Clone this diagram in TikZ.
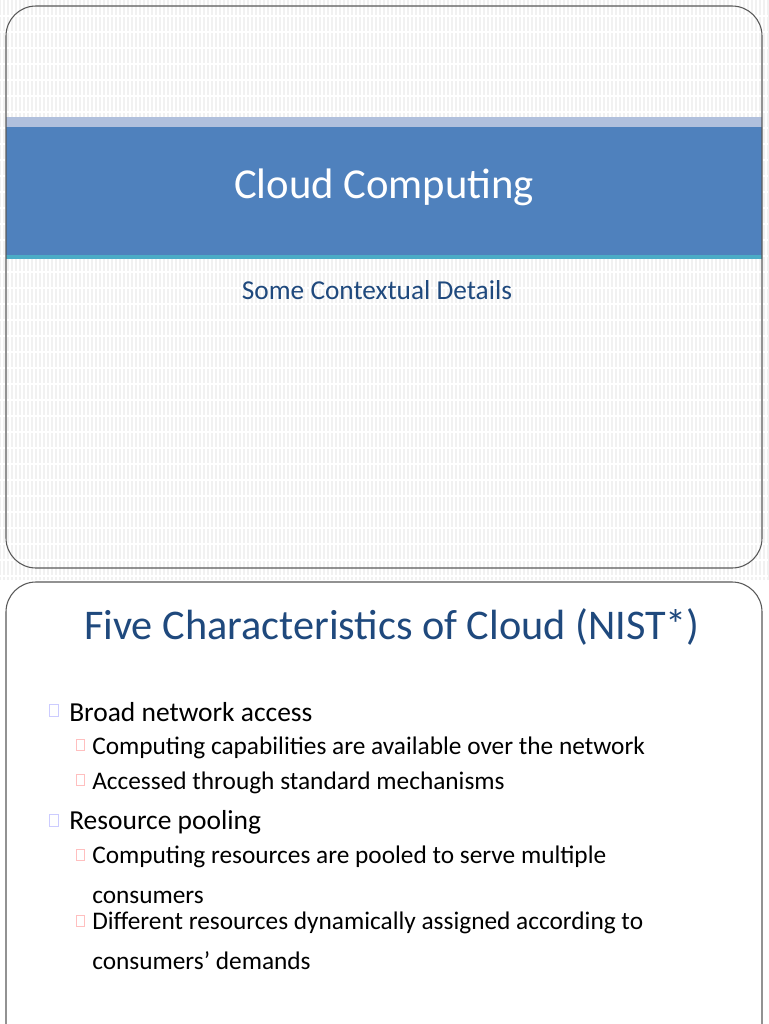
\documentclass[tikz,border=0pt]{standalone}
\usepackage{fontspec}
\setmainfont{Carlito}
\definecolor{band}{HTML}{4F81BD}
\definecolor{bandlt}{HTML}{B0C0DD}
\definecolor{cyanl}{HTML}{4BACC6}
\definecolor{ttl}{HTML}{1F497D}
\definecolor{stripe}{HTML}{F1F1F1}
\begin{document}
\begin{tikzpicture}[x=0.75pt,y=-0.75pt,
  lone/.style={anchor=west,font=\fontsize{20.6}{22}\selectfont,inner sep=0pt},
  ltwo/.style={anchor=west,font=\fontsize{19}{23}\selectfont,inner sep=0pt,align=left},
  bone/.style={draw=blue!20,line width=0.6pt,minimum width=7pt,minimum height=9pt,inner sep=0pt},
  btwo/.style={draw=red!25,line width=0.6pt,minimum width=6pt,minimum height=8pt,inner sep=0pt},
  slide/.style={draw=black!65,line width=0.8pt,rounded corners=22.5pt}]
\useasboundingbox (0,0) rectangle (768,1024);
\fill[white] (0,0) rectangle (768,1024);
\foreach \i in {0,4,...,768} \draw[stripe,line width=0.9pt] (\i,0) -- (\i,580);
\foreach \j in {16,32,...,580} \draw[white,line width=0.8pt] (0,\j) -- (768,\j);
% slide 1
\begin{scope}
\clip[rounded corners=22.5pt] (6,6) rectangle (762,568);
\fill[bandlt] (0,117) rectangle (768,127);
\fill[band] (0,127) rectangle (768,255);
\fill[cyanl] (0,255) rectangle (768,259);
\end{scope}
\draw[slide] (6,6) rectangle (762,568);
\node[text=white,font=\fontsize{32}{34}\selectfont] (t1) at (384,187) {Cloud Computing};
\node[text=ttl,font=\fontsize{20.5}{22}\selectfont] (s1) at (377,290) {Some Contextual Details};
% slide 2
\fill[white,rounded corners=22.5pt] (6,582) rectangle (762,1060);
\draw[slide] (6,582) rectangle (762,1060);
\node[text=ttl,font=\fontsize{31.7}{34}\selectfont] (t2) at (392,627) {Five Characteristics of Cloud (NIST*)};
\node[bone] (b1) at (54,710) {};
\node[lone] (l1) at (69,712) {Broad network access};
\node[btwo] (b2) at (80,745) {};
\node[ltwo] (l2) at (92,748) {Computing capabilities are available over the network};
\node[btwo] (b3) at (80,780) {};
\node[ltwo] (l3) at (92,783) {Accessed through standard mechanisms};
\node[bone] (b4) at (54,820) {};
\node[lone] (l4) at (69,822) {Resource pooling};
\node[btwo] (b5) at (80,855) {};
\node[ltwo,anchor=north west] (l5) at (92,846) {Computing resources are pooled to serve multiple\\[7pt]consumers};
\node[btwo] (b6) at (80,921) {};
\node[ltwo,anchor=north west] (l6) at (92,912) {Different resources dynamically assigned according to\\[7pt]consumers\char"27\ demands};
\end{tikzpicture}
\end{document}
